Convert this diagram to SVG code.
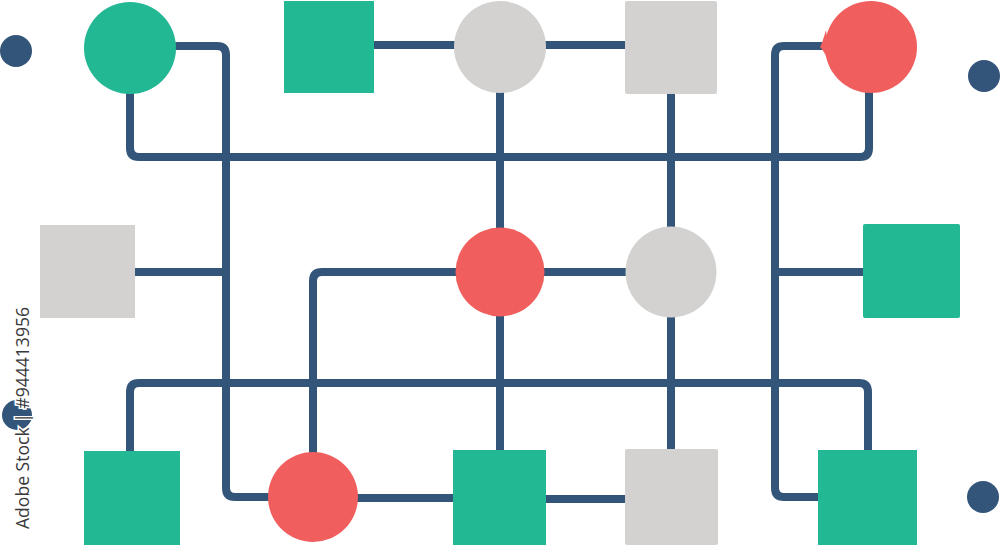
<svg xmlns="http://www.w3.org/2000/svg" width="1000" height="545" viewBox="0 0 1000 545">
<style>
.ln{fill:none;stroke:#33557A;stroke-width:8;stroke-linecap:round;stroke-linejoin:round}
.g{fill:#22B893}
.r{fill:#F05F5E}
.y{fill:#D3D2D0}
.d{fill:#33557A}
.wm{font-family:"Open Sans","Liberation Sans",sans-serif;font-size:19px;fill:#3a3a3a;stroke:#ffffff;stroke-width:3;paint-order:stroke}
</style>
<rect width="1000" height="545" fill="#ffffff"/>
<g id="connectors">
<path class="ln" d="M177,46 H217 Q226,46 226,55 V488 Q226,497 235,497 H270"/>
<path class="ln" d="M130,92 V148 Q130,157 139,157 H860 Q869,157 869,148 V92"/>
<path class="ln" d="M374,45 H455"/>
<path class="ln" d="M545,45 H626"/>
<path class="ln" d="M500,92 V229"/>
<path class="ln" d="M671,93 V228"/>
<path class="ln" d="M822,46 H784 Q775,46 775,55 V488 Q775,497 784,497 H820"/>
<path class="ln" d="M135,272 H226"/>
<path class="ln" d="M775,272 H864"/>
<path class="ln" d="M457,272 H322 Q313,272 313,281 V452"/>
<path class="ln" d="M544,272 H627"/>
<path class="ln" d="M500,316 V452"/>
<path class="ln" d="M671,317 V450"/>
<path class="ln" d="M130,452 V392 Q130,383 139,383 H859 Q868,383 868,392 V452"/>
<path class="ln" d="M357,498 H454"/>
<path class="ln" d="M546,499 H626"/>
</g>
<g id="dot-tl"><circle class="d" cx="16" cy="51" r="16"/></g>
<g id="dot-tr"><circle class="d" cx="984" cy="76" r="16"/></g>
<g id="dot-bl"><circle class="d" cx="17" cy="415" r="15"/></g>
<g id="dot-br"><circle class="d" cx="983" cy="497" r="16"/></g>
<g id="n-green-circle-top"><circle class="g" cx="130" cy="48" r="46"/></g>
<g id="n-green-square-top"><rect class="g" x="284" y="1" width="90" height="92"/></g>
<g id="n-gray-circle-top"><circle class="y" cx="500" cy="47" r="46"/></g>
<g id="n-gray-square-top"><rect class="y" x="625" y="1" width="92" height="93" rx="2"/></g>
<g id="n-red-circle-top"><circle class="r" cx="871" cy="47" r="46"/><path class="r" d="M826,30 Q822,44 820,47 Q826,52 832,72 Z"/></g>
<g id="n-gray-square-mid"><rect class="y" x="40" y="225" width="95" height="93"/></g>
<g id="n-red-circle-mid"><circle class="r" cx="500" cy="272" r="44.5"/></g>
<g id="n-gray-circle-mid"><circle class="y" cx="671" cy="272" r="45.5"/></g>
<g id="n-green-square-mid"><rect class="g" x="863" y="224" width="97" height="94" rx="2"/></g>
<g id="n-green-square-bl"><rect class="g" x="84" y="451" width="96" height="94"/></g>
<g id="n-red-circle-bottom"><circle class="r" cx="313" cy="497" r="45"/></g>
<g id="n-green-square-bm"><rect class="g" x="453" y="450" width="93" height="95"/></g>
<g id="n-gray-square-bm"><rect class="y" x="625" y="449" width="93" height="96" rx="2"/></g>
<g id="n-green-square-br"><rect class="g" x="818" y="450" width="99" height="95"/></g>
<text class="wm" transform="translate(29,529) rotate(-90)" textLength="222" lengthAdjust="spacingAndGlyphs">Adobe Stock | #944413956</text>
</svg>
